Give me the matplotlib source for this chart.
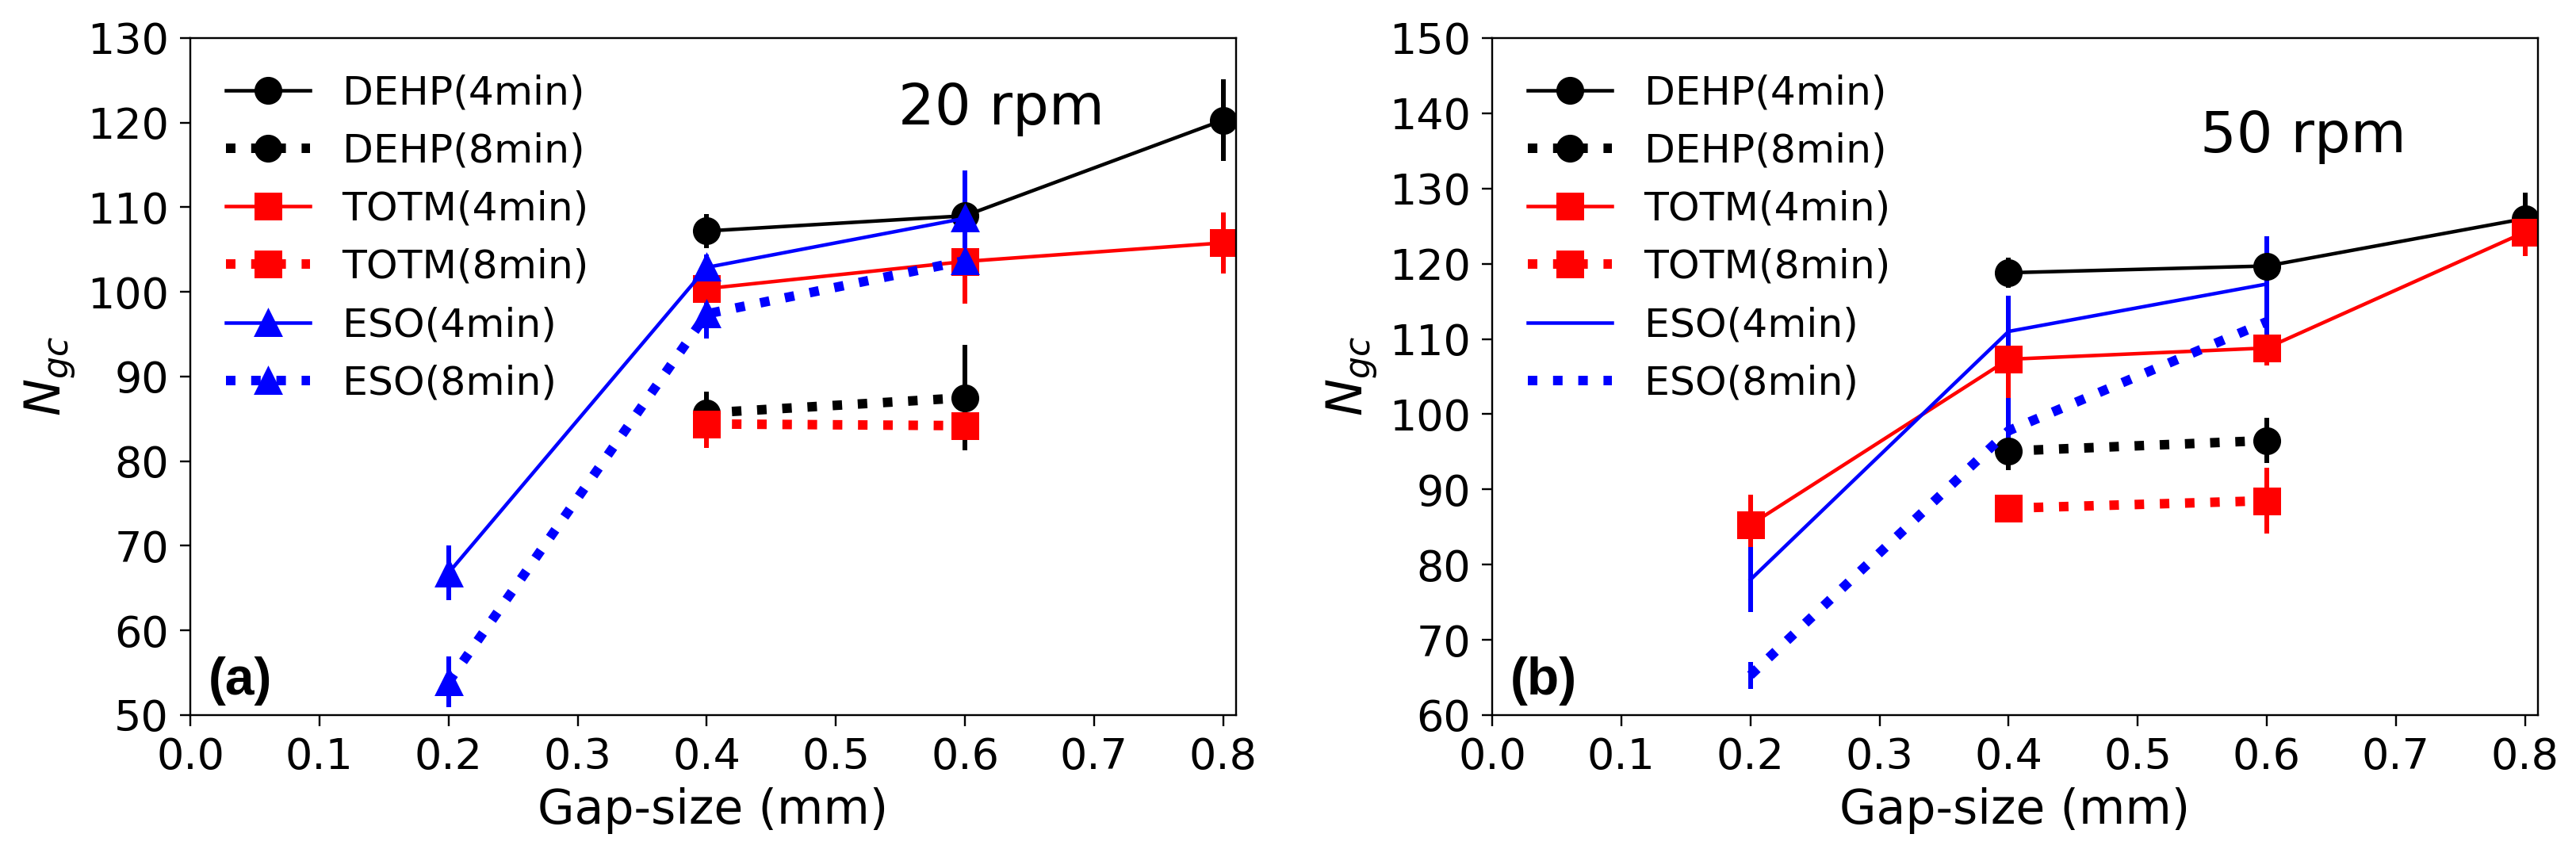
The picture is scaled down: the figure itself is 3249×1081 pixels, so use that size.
import numpy as np
import matplotlib.pyplot as plt

# ─── Data ─────────────────────────────────────────────────────────────────────

# (a) 20 rpm
a_dehp4_x, a_dehp4_y, a_dehp4_e = [0.4, 0.6, 0.8], [107.2, 109.0, 120.3], [2.0, 1.0, 4.8]
a_dehp8_x, a_dehp8_y, a_dehp8_e = [0.4, 0.6], [85.7, 87.5], [2.5, 6.2]
a_totm4_x, a_totm4_y, a_totm4_e = [0.4, 0.6, 0.8], [100.4, 103.6, 105.8], [1.0, 5.0, 3.6]
a_totm8_x, a_totm8_y, a_totm8_e = [0.4, 0.6], [84.4, 84.2], [2.8, 1.0]
a_eso4_x, a_eso4_y, a_eso4_e = [0.2, 0.4, 0.6], [66.8, 102.9, 108.7], [3.2, 1.5, 5.7]
a_eso8_x, a_eso8_y, a_eso8_e = [0.2, 0.4, 0.6], [53.9, 97.4, 103.7], [3.0, 2.9, 1.0]

# (b) 50 rpm
b_dehp4_x, b_dehp4_y, b_dehp4_e = [0.4, 0.6, 0.8], [118.8, 119.7, 126.0], [2.0, 1.0, 3.5]
b_dehp8_x, b_dehp8_y, b_dehp8_e = [0.4, 0.6], [95.1, 96.5], [2.5, 3.0]
b_totm4_x, b_totm4_y, b_totm4_e = [0.2, 0.4, 0.6, 0.8], [85.3, 107.3, 108.8, 124.2], [4.0, 5.2, 2.3, 3.2]
b_totm8_x, b_totm8_y, b_totm8_e = [0.4, 0.6], [87.5, 88.5], [1.0, 4.4]
b_eso4_x, b_eso4_y, b_eso4_e = [0.2, 0.4, 0.6], [78.0, 111.0, 117.3], [4.3, 4.7, 6.4]
b_eso8_x, b_eso8_y, b_eso8_e = [0.2, 0.4, 0.6], [65.3, 97.8, 112.3], [1.8, 4.4, 2.0]

labels = ["DEHP(4min)", "DEHP(8min)", "TOTM(4min)", "TOTM(8min)", "ESO(4min)", "ESO(8min)"]

# ─── Plot ─────────────────────────────────────────────────────────────────────

plt.rcParams['font.family'] = 'DejaVu Sans'
fig, axes = plt.subplots(1, 2, figsize=(3249 / 216, 1081 / 216), dpi=216)
fig.subplots_adjust(left=0.0739, right=0.9852, top=0.9556, bottom=0.1656, wspace=0.245)


def draw(ax, series, eso_markers):
    tri = '^' if eso_markers else 'None'
    styles = [
        ('k', '-', 1.5, 'o'), ('k', ':', 4, 'o'),
        ('r', '-', 1.5, 's'), ('r', ':', 4, 's'),
        ('b', '-', 1.5, tri), ('b', ':', 4, tri),
    ]
    handles = []
    for (x, y, e), (c, ls, lw, mk) in zip(series, styles):
        cont = ax.errorbar(x, y, yerr=e, color=c, ls=ls, lw=lw, marker=mk,
                           ms=10.7, elinewidth=2, capsize=0)
        handles.append(cont.lines[0])
    ax.set_xlim(0, 0.81)
    ax.set_xticks(np.arange(0, 0.81, 0.1))
    ax.set_xlabel("Gap-size (mm)", fontsize=20)
    ax.set_ylabel("$N_{gc}$", fontsize=21)
    ax.tick_params(labelsize=18, length=4.5, pad=4.5)
    ax.legend(handles, labels, loc='upper left', frameon=False, fontsize=16.8,
              handlelength=2.1, labelspacing=0.5)


# the panel tags are narrower than DejaVu bold in the original
panel_font = ['Liberation Sans', 'DejaVu Sans']

ax = axes[0]
draw(ax, [(a_dehp4_x, a_dehp4_y, a_dehp4_e), (a_dehp8_x, a_dehp8_y, a_dehp8_e),
          (a_totm4_x, a_totm4_y, a_totm4_e), (a_totm8_x, a_totm8_y, a_totm8_e),
          (a_eso4_x, a_eso4_y, a_eso4_e), (a_eso8_x, a_eso8_y, a_eso8_e)], True)
ax.set_ylim(50, 130)
ax.set_yticks(np.arange(50, 131, 10))
ax.text(0.628, 119.8, "20 rpm", fontsize=24, ha='center', va='baseline')
ax.text(0.017, 0.03, "(a)", transform=ax.transAxes, fontsize=22, fontweight='bold',
        family=panel_font, va='baseline')

ax = axes[1]
draw(ax, [(b_dehp4_x, b_dehp4_y, b_dehp4_e), (b_dehp8_x, b_dehp8_y, b_dehp8_e),
          (b_totm4_x, b_totm4_y, b_totm4_e), (b_totm8_x, b_totm8_y, b_totm8_e),
          (b_eso4_x, b_eso4_y, b_eso4_e), (b_eso8_x, b_eso8_y, b_eso8_e)], False)
ax.set_ylim(60, 150)
ax.set_yticks(np.arange(60, 151, 10))
ax.text(0.628, 134.8, "50 rpm", fontsize=24, ha='center', va='baseline')
ax.text(0.017, 0.03, "(b)", transform=ax.transAxes, fontsize=22, fontweight='bold',
        family=panel_font, va='baseline')

fig.savefig("out.png", dpi=216)
